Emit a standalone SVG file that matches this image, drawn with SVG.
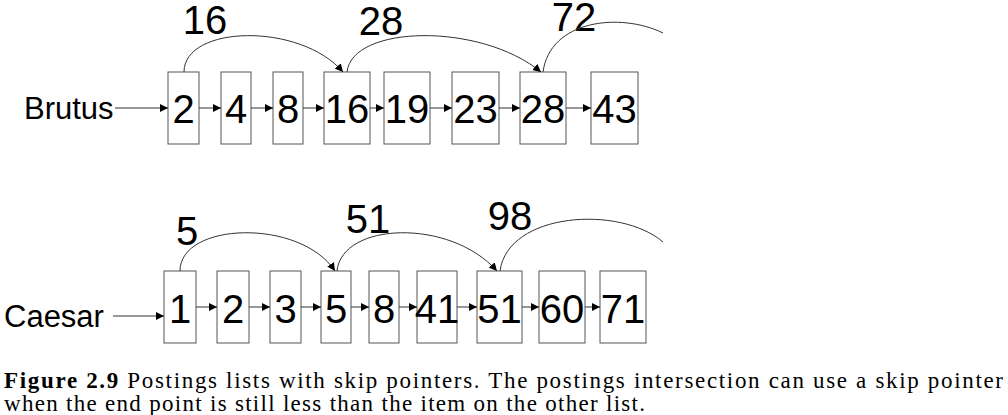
<svg xmlns="http://www.w3.org/2000/svg" width="1008" height="415" viewBox="0 0 1008 415">
<style>
.b{fill:#fff;stroke:#555;stroke-width:1}
.n{font-family:"Liberation Sans",Arial,sans-serif;font-size:40px;text-anchor:middle;fill:#000}
.l{font-family:"Liberation Sans",Arial,sans-serif;font-size:31px;fill:#000}
.c{stroke:#333;stroke-width:1;fill:none;marker-end:url(#a)}
.cn{stroke:#333;stroke-width:1;fill:none}
.cap{font-family:"Liberation Serif","Times New Roman",serif;font-size:23px;fill:#000}
</style>
<defs>
<marker id="a" viewBox="0 0 10 10" refX="10" refY="5" markerWidth="8" markerHeight="8" markerUnits="userSpaceOnUse" orient="auto"><path d="M0,0L10,5L0,10z" fill="#000"/></marker>
</defs>
<g id="brutus-label"><text class="l" x="24" y="119">Brutus</text></g>
<g id="b1"><rect class="b" x="168" y="72" width="31" height="72"/><text class="n" x="183.5" y="123">2</text></g>
<g id="b2"><rect class="b" x="221" y="72" width="30" height="72"/><text class="n" x="236" y="123">4</text></g>
<g id="b3"><rect class="b" x="273" y="72" width="30" height="72"/><text class="n" x="288" y="123">8</text></g>
<g id="b4"><rect class="b" x="324" y="72" width="46" height="72"/><text class="n" x="347" y="123">16</text></g>
<g id="b5"><rect class="b" x="384" y="72" width="46" height="72"/><text class="n" x="407" y="123">19</text></g>
<g id="b6"><rect class="b" x="452" y="72" width="47" height="72"/><text class="n" x="475.5" y="123">23</text></g>
<g id="b7"><rect class="b" x="520" y="72" width="46" height="72"/><text class="n" x="543" y="123">28</text></g>
<g id="b8"><rect class="b" x="591" y="72" width="47" height="72"/><text class="n" x="614.5" y="123">43</text></g>
<g id="bskip-labels">
<text class="n" x="205" y="34">16</text><text class="n" x="381" y="35">28</text><text class="n" x="574" y="31">72</text>
</g>
<g id="caesar-label"><text class="l" x="4" y="327">Caesar</text></g>
<g id="c1"><rect class="b" x="164" y="271" width="32" height="72"/><text class="n" x="180" y="323">1</text></g>
<g id="c2"><rect class="b" x="217" y="271" width="32" height="72"/><text class="n" x="233" y="323">2</text></g>
<g id="c3"><rect class="b" x="270" y="271" width="31" height="72"/><text class="n" x="285.5" y="323">3</text></g>
<g id="c4"><rect class="b" x="321" y="271" width="30" height="72"/><text class="n" x="336" y="323">5</text></g>
<g id="c5"><rect class="b" x="369" y="271" width="30" height="72"/><text class="n" x="384" y="323">8</text></g>
<g id="c6"><rect class="b" x="417" y="271" width="40" height="72"/><text class="n" x="437" y="323">41</text></g>
<g id="c7"><rect class="b" x="477" y="271" width="45" height="72"/><text class="n" x="499.5" y="323">51</text></g>
<g id="c8"><rect class="b" x="539" y="271" width="46" height="72"/><text class="n" x="562" y="323">60</text></g>
<g id="c9"><rect class="b" x="600" y="271" width="46" height="72"/><text class="n" x="623" y="323">71</text></g>
<g id="cskip-labels">
<text class="n" x="187" y="245">5</text><text class="n" x="368" y="233">51</text><text class="n" x="510" y="230">98</text>
</g>
<g id="connectors">
<path class="c" d="M115,108H168"/>
<path class="c" d="M199,108H221"/>
<path class="c" d="M251,108H273"/>
<path class="c" d="M303,108H324"/>
<path class="c" d="M370,108H384"/>
<path class="c" d="M430,108H452"/>
<path class="c" d="M499,108H520"/>
<path class="c" d="M566,108H591"/>
<path class="c" d="M184,72C184,25 300,22 343,72"/>
<path class="c" d="M347,72C352,25 480,22 541,72"/>
<path class="cn" d="M543,72C550,20 620,12 663,33"/>
<path class="c" d="M113,316H164"/>
<path class="c" d="M196,307H217"/>
<path class="c" d="M249,307H270"/>
<path class="c" d="M301,307H321"/>
<path class="c" d="M351,307H369"/>
<path class="c" d="M399,307H417"/>
<path class="c" d="M457,307H477"/>
<path class="c" d="M522,307H539"/>
<path class="c" d="M585,307H600"/>
<path class="c" d="M180,271C180,222 300,218 335,271"/>
<path class="c" d="M337,271C342,222 450,218 497,271"/>
<path class="cn" d="M500,271C508,212 620,205 663,242"/>
</g>
<g id="caption">
<text class="cap" x="4" y="388" textLength="999" lengthAdjust="spacing"><tspan font-weight="bold">Figure 2.9</tspan>   Postings lists with skip pointers. The postings intersection can use a skip pointer</text>
<text class="cap" x="4" y="411" textLength="641" lengthAdjust="spacing">when the end point is still less than the item on the other list.</text>
</g>
</svg>
